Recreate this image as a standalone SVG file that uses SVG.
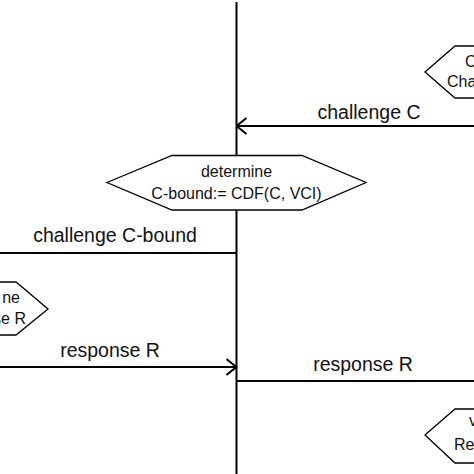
<svg xmlns="http://www.w3.org/2000/svg" width="474" height="474" viewBox="0 0 474 474">
<defs>
<marker id="open" viewBox="0 0 12 18" refX="11" refY="9" markerWidth="12" markerHeight="18" markerUnits="userSpaceOnUse" orient="auto">
<path d="M1,1 L11,9 L1,17" fill="none" stroke="#000" stroke-width="2"/>
</marker>
<style>
.ln{stroke:#000;stroke-width:2;fill:none}
.hx{fill:#fff;stroke:#000;stroke-width:1.3}
.lbl{font-family:"Liberation Sans",Arial,sans-serif;font-size:19.5px;fill:#111}
.nt{font-family:"Liberation Sans",Arial,sans-serif;font-size:16px;fill:#111}
</style>
</defs>
<rect width="474" height="474" fill="#fff"/>
<g id="connectors">
<line id="lifeline" class="ln" x1="236.5" y1="2" x2="236.5" y2="474"/>
<line id="challengeC" class="ln" x1="474" y1="126" x2="236.5" y2="126" marker-end="url(#open)"/>
<line id="challengeCbound" class="ln" x1="236.5" y1="253" x2="0" y2="253"/>
<line id="responseR1" class="ln" x1="0" y1="367" x2="236.5" y2="367" marker-end="url(#open)"/>
<line id="responseR2" class="ln" x1="236.5" y1="381" x2="474" y2="381"/>
</g>
<g id="labels">
<text class="lbl" x="369" y="119" text-anchor="middle">challenge C</text>
<text class="lbl" x="115" y="242" text-anchor="middle">challenge C-bound</text>
<text class="lbl" x="110" y="357" text-anchor="middle">response R</text>
<text class="lbl" x="363" y="371" text-anchor="middle">response R</text>
</g>
<g id="node-top-right">
<polygon class="hx" points="425,72 455,46 480,46 480,98 455,98"/>
<text class="nt" x="465" y="67">C</text>
<text class="nt" x="447" y="87">Cha</text>
</g>
<g id="node-determine">
<polygon class="hx" points="107,182.5 172,155.5 302,155.5 366,182.5 302,210 172,210"/>
<text class="nt" x="236.5" y="177" text-anchor="middle">determine</text>
<text class="nt" x="236.5" y="199" text-anchor="middle">C-bound:= CDF(C, VCI)</text>
</g>
<g id="node-left">
<polygon class="hx" points="-10,282 16,282 48,309 16,335 -10,335"/>
<text class="nt" x="20" y="303" text-anchor="end">ne</text>
<text class="nt" x="26" y="324" text-anchor="end">se R</text>
</g>
<g id="node-bottom-right">
<polygon class="hx" points="425,435 455,409 480,409 480,463 455,463"/>
<text class="nt" x="469" y="426">v</text>
<text class="nt" x="454" y="450">Re</text>
</g>
</svg>
